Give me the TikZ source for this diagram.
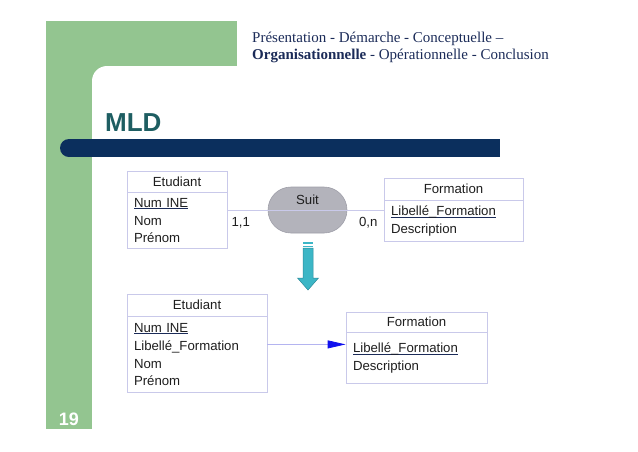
\documentclass[tikz,border=0pt]{standalone}
\usepackage{fontspec}
\setmainfont{Liberation Sans}
\newfontfamily\serifhead{Liberation Serif}
\usepackage{tikz}
\usetikzlibrary{positioning,arrows.meta,shapes.misc}
\definecolor{vertfond}{HTML}{93C590}
\definecolor{bleunuit}{HTML}{0B2F5D}
\definecolor{tealtitre}{HTML}{1E5E62}
\definecolor{navytexte}{HTML}{1B2B58}
\definecolor{traitable}{HTML}{C9C9EA}
\definecolor{grisasso}{HTML}{B3B3BB}
\definecolor{bordasso}{HTML}{9E9EA8}
\definecolor{turquoise}{HTML}{3CB6C6}
\definecolor{turqfonce}{HTML}{2B8A9A}
\definecolor{bleulien}{HTML}{1010EE}
\definecolor{lienclair}{HTML}{B4B4F0}
\definecolor{texte}{HTML}{1E1E1E}
\newcommand{\police}{\fontsize{13.2}{17.6}\selectfont}
\newcommand{\soulign}[1]{\setbox0\hbox{#1}\rlap{\color{navytexte}\rule[-1.3pt]{\wd0}{0.7pt}}\box0}
\tikzset{
    every node/.style={font=\police,text=texte},
    entete/.style={rectangle,draw=traitable,line width=0.8pt,inner sep=0pt,minimum height=21pt},
    attributs/.style={rectangle,draw=traitable,line width=0.8pt,inner xsep=7pt,inner ysep=0pt,align=left},
    asso/.style={rounded rectangle,draw=bordasso,fill=grisasso,line width=0.6pt,minimum width=79pt,minimum height=46pt,inner sep=0pt},
    lien/.style={draw=traitable,line width=0.8pt},
    card/.style={inner sep=0pt},
    fleche/.style={fill=turquoise,draw=turqfonce,line width=0.5pt}
}
\begin{document}
\begin{tikzpicture}[x=1pt,y=-1pt]
\useasboundingbox (0,0) rectangle (638,451);
% fond de la diapositive
\fill[vertfond] (46,21) rectangle (237,66);
\fill[vertfond] (46,21) rectangle (92,429);
\fill[vertfond] (92,66) rectangle (107,81);
\fill[white] (107,81) circle[radius=15];
\fill[bleunuit] (69,139) rectangle (500,157);
\fill[bleunuit] (69,148) circle[radius=9];
\node[anchor=base,font=\fontsize{18}{20}\selectfont\bfseries,text=white] (num) at (69,425) {19};
\node[anchor=base west,font=\fontsize{26}{28}\selectfont\bfseries,text=tealtitre,inner sep=0pt] (mld) at (105,131) {MLD};
\node[anchor=base west,font=\serifhead\fontsize{15}{17}\selectfont,text=navytexte,inner sep=0pt] (plan1) at (252,42) {Présentation - Démarche - Conceptuelle –};
\node[anchor=base west,font=\serifhead\fontsize{15}{17}\selectfont,text=navytexte,inner sep=0pt] (plan2) at (252,59) {\textbf{Organisationnelle} - Opérationnelle - Conclusion};

% MCD
\node[entete,minimum width=100pt] (et1h) at (177,181.5) {Etudiant};
\node[attributs,text width=86pt,minimum height=56pt,below=0pt of et1h] (et1b) {\soulign{Num INE}\\Nom\\Prénom};
\node[entete,minimum width=139pt,minimum height=22pt] (fo1h) at (453.5,189) {Formation};
\node[attributs,text width=125pt,minimum height=41pt,below=0pt of fo1h] (fo1b) {\soulign{Libellé\_Formation}\\Description};
\node[asso] (suit) at (307.5,210) {};
\draw[lien] (suit.west -| et1b.east) -- (suit.east -| fo1b.west);
\node[inner sep=0pt] (nomasso) at ([yshift=10pt]suit.center) {Suit};
\node[card] (c11) at ([xshift=-27pt,yshift=-13pt]suit.west) {1,1};
\node[card] (c0n) at ([xshift=21pt,yshift=-13pt]suit.east) {0,n};

% passage au MLD
\fill[fleche,draw=none] (303,242) rectangle (313,244);
\fill[fleche,draw=none] (303,245.5) rectangle (313,247);
\filldraw[fleche] (303,248) -- (313,248) -- (313,278) -- (318.5,278) -- (308,290) -- (297.5,278) -- (303,278) -- cycle;

% MLD
\node[entete,minimum width=140pt,minimum height=22pt] (et2h) at (197,305) {Etudiant};
\node[attributs,text width=126pt,minimum height=76pt,below=0pt of et2h] (et2b) {\soulign{Num INE}\\Libellé\_Formation\\Nom\\Prénom};
\node[entete,minimum width=141pt,minimum height=20pt] (fo2h) at (416.5,322) {Formation};
\node[attributs,text width=127pt,minimum height=51pt,below=0pt of fo2h] (fo2b) {\soulign{Libellé\_Formation}\\Description\\[-8pt]};
\coordinate (cle) at ([yshift=-12pt]fo2b.north west);
\draw[draw=lienclair,line width=0.8pt,-{Triangle[length=18pt,width=8pt,color=bleulien]}] (et2b.east |- cle) -- (cle);
\end{tikzpicture}
\end{document}
